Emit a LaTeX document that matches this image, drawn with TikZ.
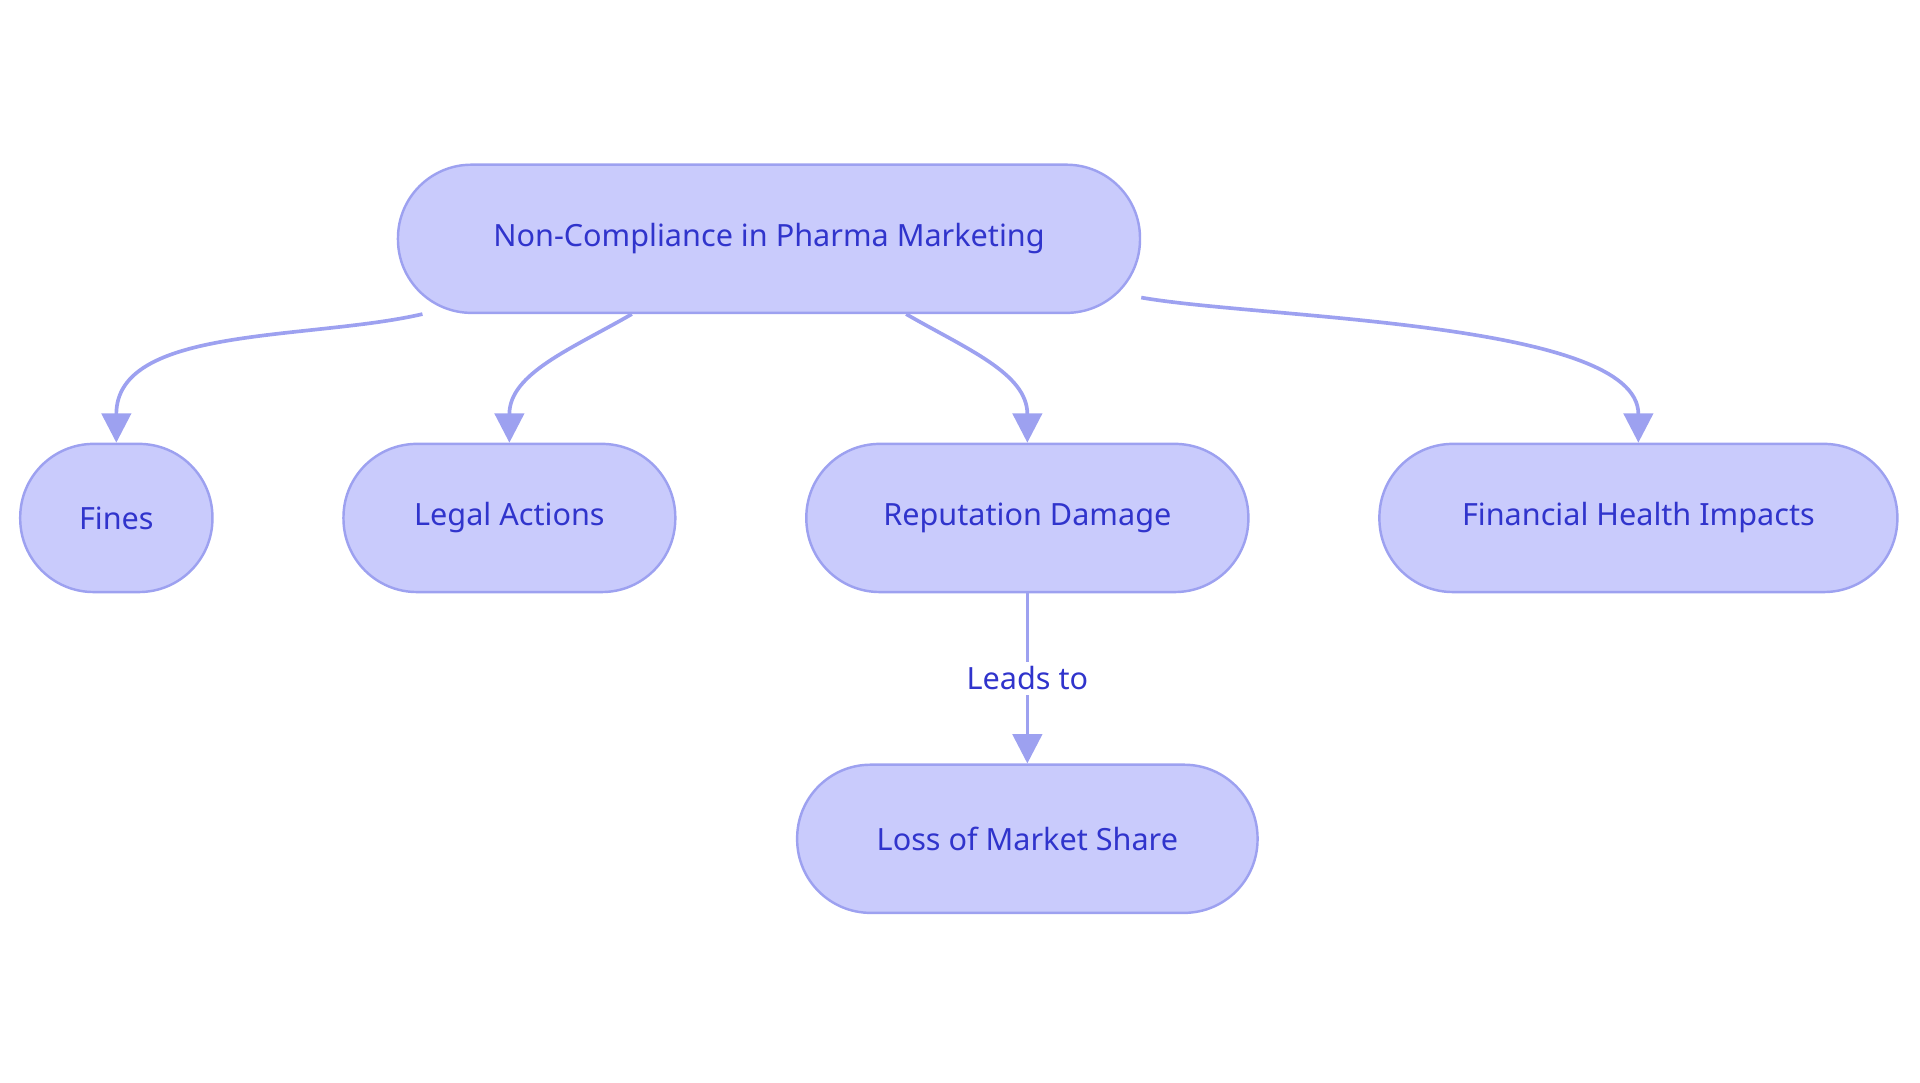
\documentclass[tikz,border=0pt]{standalone}
\usepackage{fontspec}
\setmainfont{Noto Sans}
\usetikzlibrary{arrows.meta}
\definecolor{nfill}{HTML}{C9CBFC}
\definecolor{nline}{HTML}{9DA1F0}
\definecolor{ntext}{HTML}{3034CC}
\begin{document}
\begin{tikzpicture}[x=1pt,y=-1pt,
  box/.style={draw=nline,fill=nfill,line width=2pt,rounded corners=60pt,minimum height=121pt,text=ntext,font=\fontsize{25}{30}\selectfont,inner sep=0pt},
  con/.style={draw=nline,line width=3pt,-{Triangle[length=24pt,width=24pt]}}]
\useasboundingbox (0,0) rectangle (1568,884);
\node[box,minimum width=606pt] (root) at (628,195) {Non-Compliance in Pharma Marketing};
\node[box,minimum width=157pt] (fines) at (95,423) {Fines};
\node[box,minimum width=271pt] (legal) at (416,423) {Legal Actions};
\node[box,minimum width=361pt] (rep) at (839,423) {Reputation Damage};
\node[box,minimum width=423pt] (fin) at (1338,423) {Financial Health Impacts};
\node[box,minimum width=376pt] (loss) at (839,685) {Loss of Market Share};
\draw[con] ([xshift=-283pt]root.south) to[out=-167,in=90,looseness=0.9] (fines.north);
\draw[con] ([xshift=-112pt]root.south) to[out=-150,in=90] (legal.north);
\draw[con] ([xshift=112pt]root.south) to[out=-30,in=90] (rep.north);
\draw[con] ([yshift=-48pt]root.east) to[out=-10,in=90,looseness=0.6] (fin.north);
\draw[con] (rep.south) -- node[fill=white,text=ntext,font=\fontsize{25}{30}\selectfont,inner sep=4pt] (lbl) {Leads to} (loss.north);
\end{tikzpicture}
\end{document}
